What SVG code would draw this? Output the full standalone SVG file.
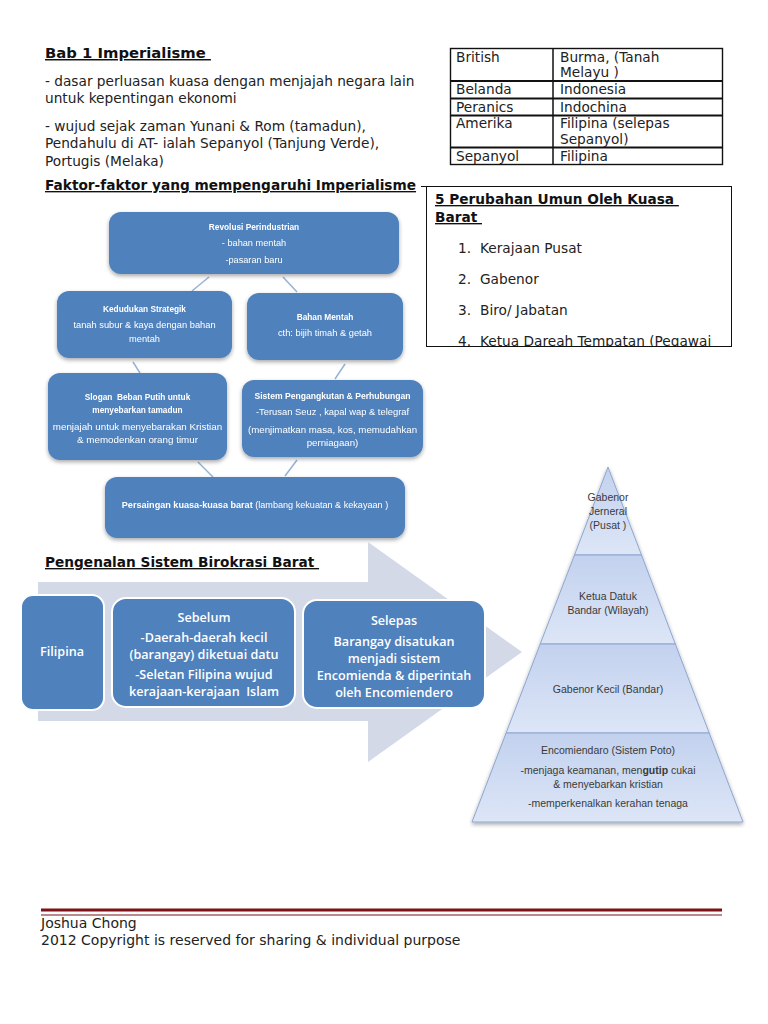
<svg xmlns="http://www.w3.org/2000/svg" width="768" height="1024" viewBox="0 0 768 1024">
<style>
.body{font-family:"DejaVu Sans",Verdana,sans-serif;font-size:13.7px;fill:#222}
.hd{font-family:"DejaVu Sans",Verdana,sans-serif;font-size:13.7px;font-weight:bold;fill:#111;text-decoration:underline}
.foot{font-family:"DejaVu Sans",sans-serif;font-size:14px;fill:#222}
.box{fill:#4F81BD}
.fc{font-family:"Liberation Sans",Arial,sans-serif;fill:#fff;text-anchor:middle}
.fb{font-weight:bold;font-size:8.3px}
.ab{fill:#4F81BD;stroke:#fff;stroke-width:2}
.at{font-family:"Open Sans","Liberation Sans",sans-serif;font-weight:600;font-size:12.6px;fill:#fff;text-anchor:middle}
.pt{font-family:"Liberation Sans",Arial,sans-serif;font-size:10.5px;fill:#3a3a3a;text-anchor:middle}
.conn{stroke:#95B3D7;stroke-width:1.5;fill:none}
.band{stroke:#8EA6CF;stroke-width:1}
</style>
<defs>
<linearGradient id="pg" x1="0" y1="0" x2="0" y2="1">
<stop offset="0" stop-color="#C2D1EE"/>
<stop offset="1" stop-color="#DDE6F7"/>
</linearGradient>
<filter id="sh" x="-10%" y="-10%" width="120%" height="130%">
<feGaussianBlur in="SourceAlpha" stdDeviation="2"/>
<feOffset dx="0" dy="2" result="b"/>
<feComponentTransfer><feFuncA type="linear" slope="0.35"/></feComponentTransfer>
<feMerge><feMergeNode/><feMergeNode in="SourceGraphic"/></feMerge>
</filter>
<clipPath id="bc"><rect x="427" y="187" width="304" height="159"/></clipPath>
</defs>
<rect width="768" height="1024" fill="#fff"/>

<g id="intro">
<text class="hd" x="45" y="58" style="font-size:14.8px" xml:space="preserve">Bab 1 Imperialisme </text>
<text class="body" x="45" y="86">- dasar perluasan kuasa dengan menjajah negara lain</text>
<text class="body" x="45" y="103">untuk kepentingan ekonomi</text>
<text class="body" x="45" y="131">- wujud sejak zaman Yunani &amp; Rom (tamadun),</text>
<text class="body" x="45" y="148">Pendahulu di AT- ialah Sepanyol (Tanjung Verde),</text>
<text class="body" x="45" y="166">Portugis (Melaka)</text>
</g>

<g id="table">
<g fill="none" stroke="#111">
<rect x="450.5" y="48.5" width="272" height="116" stroke-width="1.4"/>
<line x1="553" y1="48" x2="553" y2="165" stroke-width="1.5"/>
<line x1="450" y1="81" x2="723" y2="81" stroke-width="1.8"/>
<line x1="450" y1="98.5" x2="723" y2="98.5" stroke-width="1.8"/>
<line x1="450" y1="115.5" x2="723" y2="115.5" stroke-width="1.8"/>
<line x1="450" y1="147.5" x2="723" y2="147.5" stroke-width="1.8"/>
</g>
<text class="body" x="456" y="62">British</text>
<text class="body" x="560" y="62">Burma, (Tanah</text>
<text class="body" x="560" y="77">Melayu )</text>
<text class="body" x="456" y="94">Belanda</text>
<text class="body" x="560" y="94">Indonesia</text>
<text class="body" x="456" y="112">Peranics</text>
<text class="body" x="560" y="112">Indochina</text>
<text class="body" x="456" y="128">Amerika</text>
<text class="body" x="560" y="128">Filipina (selepas</text>
<text class="body" x="560" y="144">Sepanyol)</text>
<text class="body" x="456" y="161">Sepanyol</text>
<text class="body" x="560" y="161">Filipina</text>
</g>

<text class="hd" x="45" y="190">Faktor-faktor yang mempengaruhi Imperialisme</text>

<g id="perubahan">
<rect x="426.5" y="186.5" width="305" height="160" fill="#fff" stroke="#111" stroke-width="1"/>
<line x1="421" y1="186.5" x2="427" y2="186.5" stroke="#111" stroke-width="1"/>
<g clip-path="url(#bc)">
<text class="hd" x="435" y="204" xml:space="preserve">5 Perubahan Umun Oleh Kuasa </text>
<text class="hd" x="435" y="222" xml:space="preserve">Barat </text>
<text class="body" x="458" y="253">1.</text><text class="body" x="480" y="253">Kerajaan Pusat</text>
<text class="body" x="458" y="284">2.</text><text class="body" x="480" y="284">Gabenor</text>
<text class="body" x="458" y="315">3.</text><text class="body" x="480" y="315">Biro/ Jabatan</text>
<text class="body" x="458" y="346">4.</text><text class="body" x="480" y="346">Ketua Dareah Tempatan (Pegawai</text>
</g>
</g>

<g id="connectors">
<line class="conn" x1="209" y1="277" x2="192" y2="291"/>
<line class="conn" x1="283" y1="277" x2="297" y2="292"/>
<line class="conn" x1="133" y1="362" x2="140" y2="373"/>
<line class="conn" x1="345" y1="364" x2="335" y2="379"/>
<line class="conn" x1="198" y1="462" x2="213" y2="477"/>
<line class="conn" x1="297" y1="460" x2="285" y2="476"/>
</g>

<g id="revolusi" filter="url(#sh)">
<rect class="box" x="109" y="212" width="290" height="62" rx="12"/>
<text class="fc fb" x="254" y="230">Revolusi Perindustrian</text>
<text class="fc" x="254" y="246" font-size="9.2">- bahan mentah</text>
<text class="fc" x="254" y="263" font-size="9.2">-pasaran baru</text>
</g>
<g id="kedudukan" filter="url(#sh)">
<rect class="box" x="57" y="291" width="175" height="67" rx="12"/>
<text class="fc fb" x="144.5" y="312">Kedudukan Strategik</text>
<text class="fc" x="144.5" y="328" font-size="9.3">tanah subur &amp; kaya dengan bahan</text>
<text class="fc" x="144.5" y="342" font-size="9.3">mentah</text>
</g>
<g id="bahan" filter="url(#sh)">
<rect class="box" x="247" y="293" width="156" height="67" rx="12"/>
<text class="fc fb" x="325" y="320">Bahan Mentah</text>
<text class="fc" x="325" y="336" font-size="9.3">cth: bijih timah &amp; getah</text>
</g>
<g id="slogan" filter="url(#sh)">
<rect class="box" x="48" y="373" width="179" height="87" rx="12"/>
<text class="fc fb" x="137.5" y="400" xml:space="preserve">Slogan  Beban Putih untuk</text>
<text class="fc fb" x="137.5" y="413">menyebarkan tamadun</text>
<text class="fc" x="137.5" y="430" font-size="9.8">menjajah untuk menyebarakan Kristian</text>
<text class="fc" x="137.5" y="443" font-size="9.8">&amp; memodenkan orang timur</text>
</g>
<g id="sistem" filter="url(#sh)">
<rect class="box" x="242" y="380" width="181" height="77" rx="12"/>
<text class="fc fb" x="332.5" y="399" style="font-size:8.6px">Sistem Pengangkutan &amp; Perhubungan</text>
<text class="fc" x="332.5" y="415" font-size="9.4">-Terusan Seuz , kapal wap &amp; telegraf</text>
<text class="fc" x="332.5" y="433" font-size="9.7">(menjimatkan masa, kos, memudahkan</text>
<text class="fc" x="332.5" y="446" font-size="9.7">perniagaan)</text>
</g>
<g id="persaingan" filter="url(#sh)">
<rect class="box" x="105" y="477" width="300" height="61" rx="12"/>
<text class="fc" x="255" y="508" font-size="9.1"><tspan font-weight="bold">Persaingan kuasa-kuasa barat</tspan> (lambang kekuatan &amp; kekayaan )</text>
</g>

<g id="arrow">
<polygon points="38,582 368,582 368,542 522,652 368,762 368,721 38,721" fill="#D3D9E6"/>
</g>
<text class="hd" x="45" y="567" xml:space="preserve">Pengenalan Sistem Birokrasi Barat </text>

<g id="filipina">
<rect class="ab" x="21" y="595" width="83" height="115" rx="12"/>
<text class="at" x="62" y="656">Filipina</text>
</g>
<g id="sebelum">
<rect class="ab" x="112" y="598" width="183" height="109" rx="14"/>
<text class="at" x="204" y="622">Sebelum</text>
<text class="at" x="204" y="642">-Daerah-daerah kecil</text>
<text class="at" x="204" y="659">(barangay) diketuai datu</text>
<text class="at" x="204" y="679">-Seletan Filipina wujud</text>
<text class="at" x="204" y="696" xml:space="preserve">kerajaan-kerajaan  Islam</text>
</g>
<g id="selepas">
<rect class="ab" x="303" y="600" width="182" height="108" rx="14"/>
<text class="at" x="394" y="625">Selepas</text>
<text class="at" x="394" y="646">Barangay disatukan</text>
<text class="at" x="394" y="663">menjadi sistem</text>
<text class="at" x="394" y="680">Encomienda &amp; diperintah</text>
<text class="at" x="394" y="697">oleh Encomiendero</text>
</g>

<g id="pyramid" filter="url(#sh)">
<polygon class="band" points="608,467 641.5,555 574.5,555" fill="url(#pg)"/>
<polygon class="band" points="574.5,555 641.5,555 675.3,644 540.2,644" fill="url(#pg)"/>
<polygon class="band" points="540.2,644 675.3,644 709.2,733 506.1,733" fill="url(#pg)"/>
<polygon class="band" points="506.1,733 709.2,733 743,822 472,822" fill="url(#pg)"/>
</g>
<g id="pyramid-labels">
<text class="pt" x="608" y="501">Gabenor</text>
<text class="pt" x="608" y="515">Jerneral</text>
<text class="pt" x="608" y="529">(Pusat )</text>
<text class="pt" x="608" y="600">Ketua Datuk</text>
<text class="pt" x="608" y="614">Bandar (Wilayah)</text>
<text class="pt" x="608" y="693">Gabenor Kecil (Bandar)</text>
<text class="pt" x="608" y="754">Encomiendaro (Sistem Poto)</text>
<text class="pt" x="608" y="774">-menjaga keamanan, men<tspan font-weight="bold">gutip</tspan> cukai</text>
<text class="pt" x="608" y="788">&amp; menyebarkan kristian</text>
<text class="pt" x="608" y="807">-memperkenalkan kerahan tenaga</text>
</g>

<g id="footer">
<line x1="41" y1="910" x2="722" y2="910" stroke="#7B1218" stroke-width="3"/>
<line x1="41" y1="915" x2="722" y2="915" stroke="#7B1218" stroke-width="1"/>
<text class="foot" x="41" y="928">Joshua Chong</text>
<text class="foot" x="41" y="945">2012 Copyright is reserved for sharing &amp; individual purpose</text>
</g>
</svg>
